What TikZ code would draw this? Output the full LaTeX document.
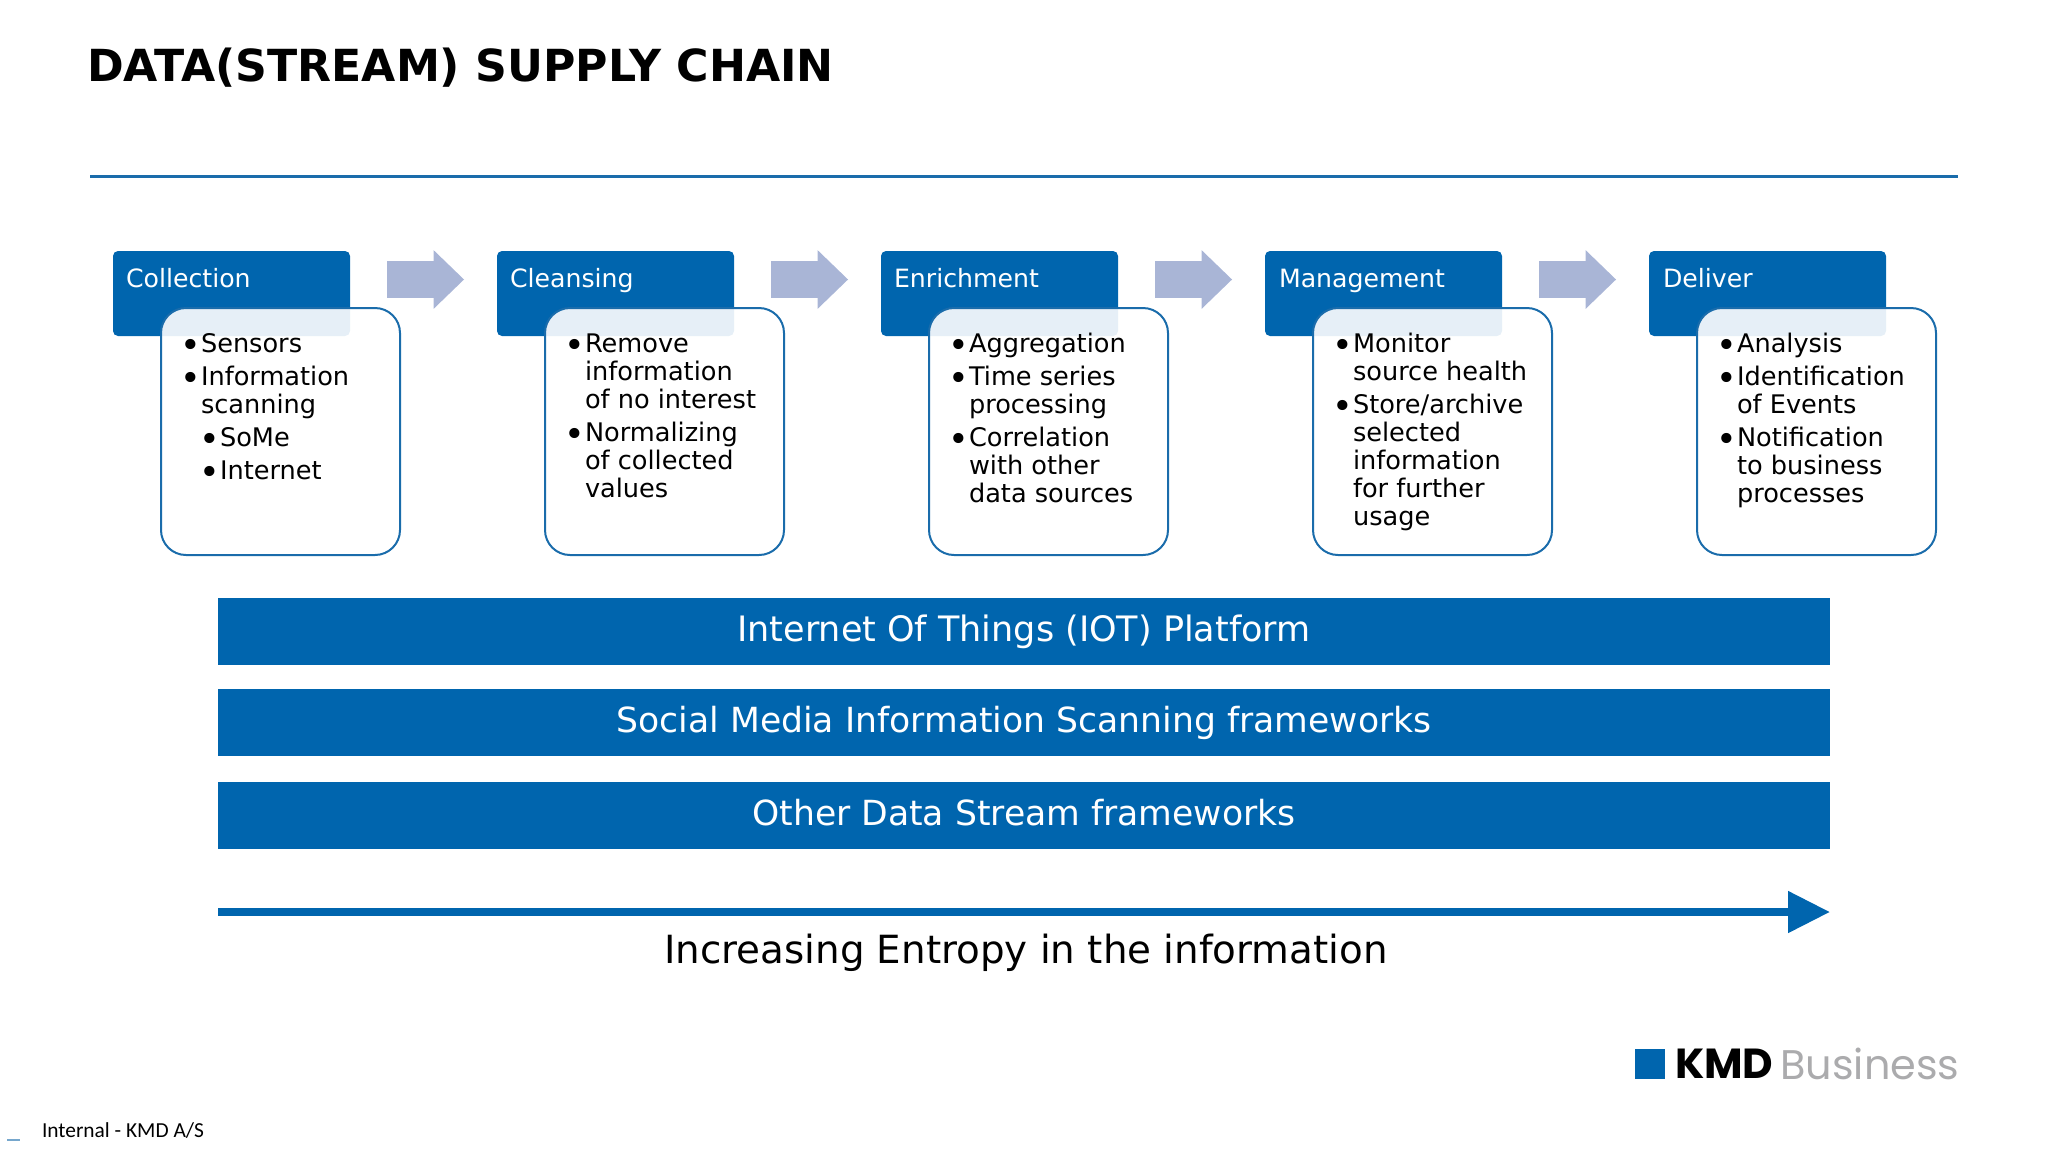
\documentclass[tikz,border=0pt]{standalone}
\usepackage{fontspec}
\setmainfont{DejaVu Sans}
\newfontfamily\footfont{Carlito}
\newfontfamily\logofont{Poppins}
\usepackage{xcolor}
\usetikzlibrary{shapes,positioning,arrows.meta}
\definecolor{kmdblue}{HTML}{0065AE}
\definecolor{kmdline}{HTML}{1A6CAB}
\definecolor{flowblue}{HTML}{A9B5D6}
\definecolor{logogrey}{HTML}{ABABAD}
\newcommand{\BigDot}{\llap{\raisebox{-2.6pt}{\fontsize{17.5}{14}\selectfont\textbullet}}}
\newcommand{\Bul}[1]{\rule{0pt}{10pt}\BigDot #1}
\newcommand{\SubBul}[1]{\hspace*{9.5pt}\BigDot #1}

\begin{document}
\begin{tikzpicture}[
    x=0.5pt,
    y=-0.5pt,
    outer sep=0pt,
    HeadBox/.style={
        rectangle,
        fill=kmdblue,
        rounded corners=2.5pt,
        minimum width=118.5pt,
        minimum height=42.5pt,
        inner sep=0pt
    },
    HeadText/.style={
        text=white,
        font=\fontsize{12.6}{14}\selectfont,
        inner sep=0pt
    },
    BodyBox/.style={
        rectangle,
        draw=kmdline,
        line width=1pt,
        fill=white,
        fill opacity=0.9,
        rounded corners=12.5pt,
        minimum width=119.5pt,
        minimum height=123.5pt,
        inner sep=0pt
    },
    BodyText/.style={
        align=left,
        font=\fontsize{12.8}{14}\selectfont,
        inner sep=0pt
    },
    Flow/.style={
        single arrow,
        fill=flowblue,
        minimum height=38.5pt,
        minimum width=29pt,
        single arrow head extend=5.5pt,
        single arrow tip angle=88,
        inner xsep=0pt,
        inner ysep=9pt
    },
    Bar/.style={
        rectangle,
        fill=kmdblue,
        text=white,
        minimum width=806pt,
        minimum height=33.5pt,
        inner sep=0pt,
        text height=13pt,
        text depth=3.5pt,
        font=\fontsize{17.3}{20}\selectfont
    }
    ]
    \useasboundingbox (0,0) rectangle (2048,1152);

    \node[anchor=west,inner sep=0pt,font=\fontsize{22.1}{26}\selectfont\bfseries] (title) at (87,68) {DATA(STREAM) SUPPLY CHAIN};
    \coordinate (rulebegin) at (90,176);
    \coordinate (ruleend) at (1958,176);
    \draw[kmdline,line width=1.5pt] (rulebegin) -- (ruleend);

    % headers
    \node[HeadBox] (collection) at (231.5,293.5) {};
    \node[HeadBox] (cleansing) [right=73.5pt of collection] {};
    \node[HeadBox] (enrichment) [right=73.5pt of cleansing] {};
    \node[HeadBox] (management) [right=73.5pt of enrichment] {};
    \node[HeadBox] (deliver) [right=73.5pt of management] {};

    \node[HeadText,anchor=base west] (collectionhead) at (126,287) {Collection};
    \node[HeadText,anchor=base west] (cleansinghead) at (510,287) {Cleansing};
    \node[HeadText,anchor=base west] (enrichmenthead) at (894,287) {Enrichment};
    \node[HeadText,anchor=base west] (managementhead) at (1279,287) {Management};
    \node[HeadText,anchor=base west] (deliverhead) at (1663,287) {Deliver};

    % arrows between the headers
    \node[Flow,yshift=7pt] (flowa) [right=18.5pt of collection] {};
    \node[Flow,yshift=7pt] (flowb) [right=18.5pt of cleansing] {};
    \node[Flow,yshift=7pt] (flowc) [right=18.5pt of enrichment] {};
    \node[Flow,yshift=7pt] (flowd) [right=18.5pt of management] {};

    % rounded boxes
    \node[BodyBox] (collectionbody) [below right=-14pt and -94.5pt of collection] {};
    \node[BodyBox] (cleansingbody) [below right=-14pt and -94.5pt of cleansing] {};
    \node[BodyBox] (enrichmentbody) [below right=-14pt and -94.5pt of enrichment] {};
    \node[BodyBox] (managementbody) [below right=-14pt and -94.5pt of management] {};
    \node[BodyBox] (deliverbody) [below right=-14pt and -94.5pt of deliver] {};

    \node[BodyText] (collectionlist) [below right=12pt and 20pt of collectionbody.north west] {\Bul{Sensors}\\[2.5pt]
        \Bul{Information}\\scanning\\[2.5pt]
        \SubBul{SoMe}\\[2.5pt]
        \SubBul{Internet}};
    \node[BodyText] (cleansinglist) [below right=12pt and 20pt of cleansingbody.north west] {\Bul{Remove}\\information\\of no interest\\[2.5pt]
        \Bul{Normalizing}\\of collected\\values};
    \node[BodyText] (enrichmentlist) [below right=12pt and 20pt of enrichmentbody.north west] {\Bul{Aggregation}\\[2.5pt]
        \Bul{Time series}\\processing\\[2.5pt]
        \Bul{Correlation}\\with other\\data sources};
    \node[BodyText] (managementlist) [below right=12pt and 20pt of managementbody.north west] {\Bul{Monitor}\\source health\\[2.5pt]
        \Bul{Store/archive}\\selected\\information\\for further\\usage};
    \node[BodyText] (deliverlist) [below right=12pt and 20pt of deliverbody.north west] {\Bul{Analysis}\\[2.5pt]
        \Bul{Identification}\\of Events\\[2.5pt]
        \Bul{Notification}\\to business\\processes};

    % platform bars
    \node[Bar,font=\fontsize{17.5}{20}\selectfont] (iot) at (1024,631.5) {Internet Of Things (IOT) Platform};
    \node[Bar] (social) [below=12pt of iot] {Social Media Information Scanning frameworks};
    \node[Bar] (other) [below=13pt of social] {Other Data Stream frameworks};

    \coordinate (entropybegin) at (218,912);
    \coordinate (entropyend) at (1830,912);
    \draw[kmdblue,line width=4pt,-{Triangle[length=21pt,width=20pt]}] (entropybegin) -- (entropyend);
    \node[inner sep=0pt,font=\fontsize{19.4}{22}\selectfont] (entropy) at (1026,952.5) {Increasing Entropy in the information};

    % logo and footer
    \node[rectangle,fill=kmdblue,minimum size=15pt,inner sep=0pt] (logosquare) at (1650,1064) {};
    \node[inner sep=0pt,font=\logofont\bfseries\fontsize{21}{24}\selectfont] (logokmd) [right=5pt of logosquare] {KMD};
    \node[inner sep=0pt,text=logogrey,font=\logofont\fontsize{20.7}{24}\selectfont] (logobusiness) [right=3.5pt of logokmd] {Business};

    \node[anchor=west,inner sep=0pt,font=\footfont\fontsize{10.7}{12}\selectfont] (footer) at (42,1131) {Internal - KMD A/S};
    \coordinate (dashbegin) at (7,1140);
    \coordinate (dashend) at (20,1140);
    \draw[kmdline!60,line width=0.75pt] (dashbegin) -- (dashend);
\end{tikzpicture}
\end{document}
